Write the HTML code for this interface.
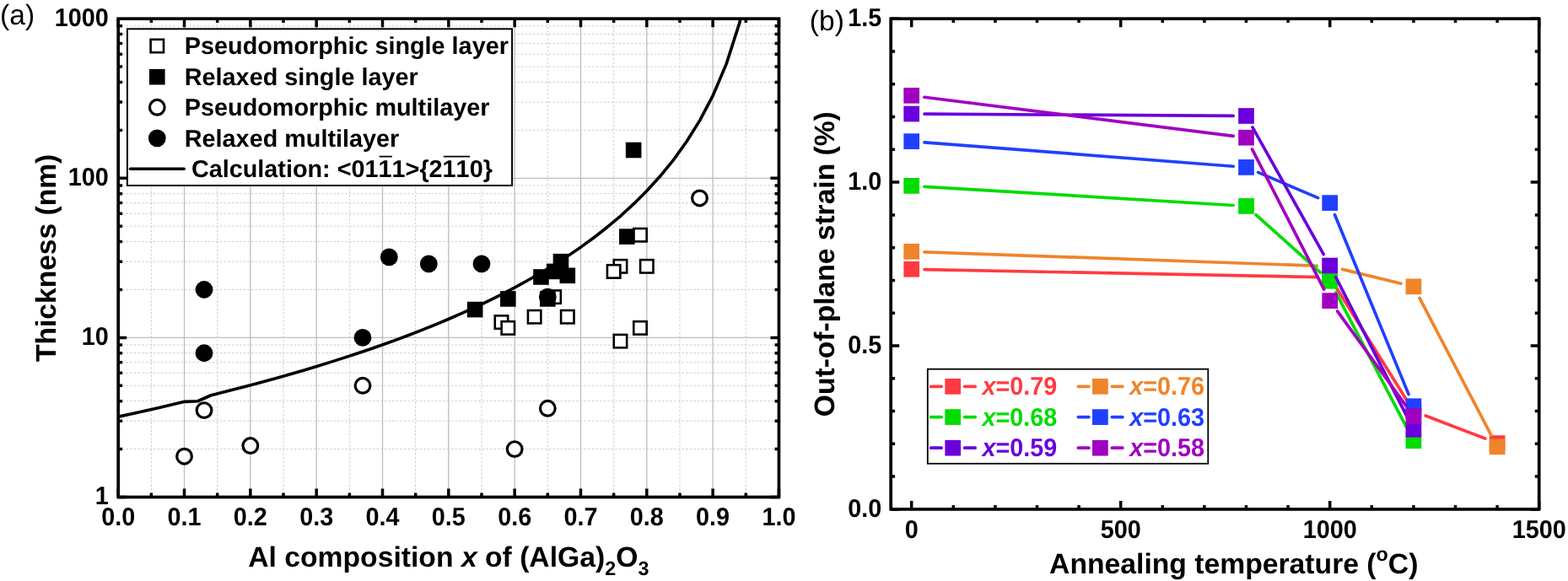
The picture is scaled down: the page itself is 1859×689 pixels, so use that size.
<!DOCTYPE html>
<html lang="en">
<head>
<meta charset="utf-8">
<title>Figure: critical thickness and annealing strain</title>
<style>
html,body{margin:0;padding:0;background:#fff;}
body{width:1859px;height:689px;overflow:hidden;}
svg{display:block;}
text{white-space:pre;font-kerning:none;font-variant-ligatures:none;text-rendering:geometricPrecision;}
</style>
</head>
<body>
<svg width="1859" height="689" viewBox="0 0 1859 689" role="img" aria-label="Two-panel figure: (a) critical thickness versus Al composition, (b) out-of-plane strain versus annealing temperature">
<rect width="1859" height="689" fill="#fff"/>
<g id="chartA">
<g fill="none" stroke-width="1">
<line x1="179.36" y1="22.2" x2="179.36" y2="589.5" stroke="#cecece" stroke-dasharray="2.6 2.04"/>
<line x1="257.69" y1="22.2" x2="257.69" y2="589.5" stroke="#cecece" stroke-dasharray="2.6 2.04"/>
<line x1="336.01" y1="22.2" x2="336.01" y2="589.5" stroke="#cecece" stroke-dasharray="2.6 2.04"/>
<line x1="414.34" y1="22.2" x2="414.34" y2="589.5" stroke="#cecece" stroke-dasharray="2.6 2.04"/>
<line x1="492.66" y1="22.2" x2="492.66" y2="589.5" stroke="#cecece" stroke-dasharray="2.6 2.04"/>
<line x1="570.99" y1="22.2" x2="570.99" y2="589.5" stroke="#cecece" stroke-dasharray="2.6 2.04"/>
<line x1="649.31" y1="22.2" x2="649.31" y2="589.5" stroke="#cecece" stroke-dasharray="2.6 2.04"/>
<line x1="727.64" y1="22.2" x2="727.64" y2="589.5" stroke="#cecece" stroke-dasharray="2.6 2.04"/>
<line x1="805.96" y1="22.2" x2="805.96" y2="589.5" stroke="#cecece" stroke-dasharray="2.6 2.04"/>
<line x1="884.29" y1="22.2" x2="884.29" y2="589.5" stroke="#cecece" stroke-dasharray="2.6 2.04"/>
<line x1="140.2" y1="532.58" x2="923.45" y2="532.58" stroke="#cecece" stroke-dasharray="2.6 2.04"/>
<line x1="140.2" y1="499.28" x2="923.45" y2="499.28" stroke="#cecece" stroke-dasharray="2.6 2.04"/>
<line x1="140.2" y1="475.65" x2="923.45" y2="475.65" stroke="#cecece" stroke-dasharray="2.6 2.04"/>
<line x1="140.2" y1="457.32" x2="923.45" y2="457.32" stroke="#cecece" stroke-dasharray="2.6 2.04"/>
<line x1="140.2" y1="442.35" x2="923.45" y2="442.35" stroke="#cecece" stroke-dasharray="2.6 2.04"/>
<line x1="140.2" y1="429.69" x2="923.45" y2="429.69" stroke="#cecece" stroke-dasharray="2.6 2.04"/>
<line x1="140.2" y1="418.73" x2="923.45" y2="418.73" stroke="#cecece" stroke-dasharray="2.6 2.04"/>
<line x1="140.2" y1="409.05" x2="923.45" y2="409.05" stroke="#cecece" stroke-dasharray="2.6 2.04"/>
<line x1="140.2" y1="343.48" x2="923.45" y2="343.48" stroke="#cecece" stroke-dasharray="2.6 2.04"/>
<line x1="140.2" y1="310.18" x2="923.45" y2="310.18" stroke="#cecece" stroke-dasharray="2.6 2.04"/>
<line x1="140.2" y1="286.55" x2="923.45" y2="286.55" stroke="#cecece" stroke-dasharray="2.6 2.04"/>
<line x1="140.2" y1="268.22" x2="923.45" y2="268.22" stroke="#cecece" stroke-dasharray="2.6 2.04"/>
<line x1="140.2" y1="253.25" x2="923.45" y2="253.25" stroke="#cecece" stroke-dasharray="2.6 2.04"/>
<line x1="140.2" y1="240.59" x2="923.45" y2="240.59" stroke="#cecece" stroke-dasharray="2.6 2.04"/>
<line x1="140.2" y1="229.63" x2="923.45" y2="229.63" stroke="#cecece" stroke-dasharray="2.6 2.04"/>
<line x1="140.2" y1="219.95" x2="923.45" y2="219.95" stroke="#cecece" stroke-dasharray="2.6 2.04"/>
<line x1="140.2" y1="154.38" x2="923.45" y2="154.38" stroke="#cecece" stroke-dasharray="2.6 2.04"/>
<line x1="140.2" y1="121.08" x2="923.45" y2="121.08" stroke="#cecece" stroke-dasharray="2.6 2.04"/>
<line x1="140.2" y1="97.45" x2="923.45" y2="97.45" stroke="#cecece" stroke-dasharray="2.6 2.04"/>
<line x1="140.2" y1="79.12" x2="923.45" y2="79.12" stroke="#cecece" stroke-dasharray="2.6 2.04"/>
<line x1="140.2" y1="64.15" x2="923.45" y2="64.15" stroke="#cecece" stroke-dasharray="2.6 2.04"/>
<line x1="140.2" y1="51.49" x2="923.45" y2="51.49" stroke="#cecece" stroke-dasharray="2.6 2.04"/>
<line x1="140.2" y1="40.53" x2="923.45" y2="40.53" stroke="#cecece" stroke-dasharray="2.6 2.04"/>
<line x1="140.2" y1="30.85" x2="923.45" y2="30.85" stroke="#cecece" stroke-dasharray="2.6 2.04"/>
<line x1="218.52" y1="22.2" x2="218.52" y2="589.5" stroke="#bdbdbd" stroke-width="1.3"/>
<line x1="296.85" y1="22.2" x2="296.85" y2="589.5" stroke="#bdbdbd" stroke-width="1.3"/>
<line x1="375.18" y1="22.2" x2="375.18" y2="589.5" stroke="#bdbdbd" stroke-width="1.3"/>
<line x1="453.5" y1="22.2" x2="453.5" y2="589.5" stroke="#bdbdbd" stroke-width="1.3"/>
<line x1="531.83" y1="22.2" x2="531.83" y2="589.5" stroke="#bdbdbd" stroke-width="1.3"/>
<line x1="610.15" y1="22.2" x2="610.15" y2="589.5" stroke="#bdbdbd" stroke-width="1.3"/>
<line x1="688.48" y1="22.2" x2="688.48" y2="589.5" stroke="#bdbdbd" stroke-width="1.3"/>
<line x1="766.8" y1="22.2" x2="766.8" y2="589.5" stroke="#bdbdbd" stroke-width="1.3"/>
<line x1="845.12" y1="22.2" x2="845.12" y2="589.5" stroke="#bdbdbd" stroke-width="1.3"/>
<line x1="140.2" y1="400.4" x2="923.45" y2="400.4" stroke="#bdbdbd" stroke-width="1.3"/>
<line x1="140.2" y1="211.3" x2="923.45" y2="211.3" stroke="#bdbdbd" stroke-width="1.3"/>
</g>
<clipPath id="clipA"><rect x="140.2" y="22.2" width="783.25" height="567.3"/></clipPath>
<g clip-path="url(#clipA)">
<rect x="586.78" y="374.37" width="15.4" height="15.4" fill="#fff" stroke="#000" stroke-width="2.6"/>
<rect x="594.62" y="381.22" width="15.4" height="15.4" fill="#fff" stroke="#000" stroke-width="2.6"/>
<rect x="625.95" y="368.05" width="15.4" height="15.4" fill="#fff" stroke="#000" stroke-width="2.6"/>
<rect x="649.44" y="344.43" width="15.4" height="15.4" fill="#fff" stroke="#000" stroke-width="2.6"/>
<rect x="665.11" y="368.05" width="15.4" height="15.4" fill="#fff" stroke="#000" stroke-width="2.6"/>
<rect x="727.77" y="308.14" width="15.4" height="15.4" fill="#fff" stroke="#000" stroke-width="2.6"/>
<rect x="719.94" y="314.23" width="15.4" height="15.4" fill="#fff" stroke="#000" stroke-width="2.6"/>
<rect x="759.1" y="308.14" width="15.4" height="15.4" fill="#fff" stroke="#000" stroke-width="2.6"/>
<rect x="751.27" y="271.02" width="15.4" height="15.4" fill="#fff" stroke="#000" stroke-width="2.6"/>
<rect x="727.77" y="396.91" width="15.4" height="15.4" fill="#fff" stroke="#000" stroke-width="2.6"/>
<rect x="751.27" y="381.22" width="15.4" height="15.4" fill="#fff" stroke="#000" stroke-width="2.6"/>
<polyline fill="none" stroke="#000" stroke-width="3.6" stroke-linejoin="round" points="140.5,494.12 156.17,490.68 171.83,487.19 187.5,483.64 203.16,480.03 218.83,476.34 234.5,475.75 250.16,468.74 265.83,464.81 281.49,460.8 297.16,456.69 312.83,452.47 328.49,448.15 344.16,443.71 359.82,439.15 375.49,434.46 391.16,429.63 406.82,424.65 422.49,419.52 438.15,414.22 453.82,408.75 469.49,403.08 485.15,397.21 500.82,391.12 516.48,384.8 532.15,378.24 547.82,371.4 563.48,364.27 579.15,356.82 594.81,349.03 610.48,340.87 626.15,332.29 641.81,323.26 657.48,313.73 673.14,303.63 688.81,292.91 704.48,281.47 720.14,269.21 735.81,256.01 751.47,241.69 767.14,226.06 782.81,208.82 798.47,189.59 814.14,167.82 829.8,142.67 845.47,112.81 861.14,75.89 876.8,27.14 892.47,-45.75"/>
<rect x="553.86" y="357.8" width="18.6" height="18.6" fill="#000"/>
<rect x="593.02" y="345.14" width="18.6" height="18.6" fill="#000"/>
<rect x="632.18" y="319.2" width="18.6" height="18.6" fill="#000"/>
<rect x="647.85" y="312.63" width="18.6" height="18.6" fill="#000"/>
<rect x="655.68" y="300.88" width="18.6" height="18.6" fill="#000"/>
<rect x="663.51" y="317.51" width="18.6" height="18.6" fill="#000"/>
<rect x="640.01" y="345.14" width="18.6" height="18.6" fill="#000"/>
<rect x="734" y="271.31" width="18.6" height="18.6" fill="#000"/>
<rect x="741.84" y="168.7" width="18.6" height="18.6" fill="#000"/>
<circle cx="218.52" cy="541.23" r="8.85" fill="#fff" stroke="#000" stroke-width="3.2"/>
<circle cx="242.02" cy="486.62" r="8.85" fill="#fff" stroke="#000" stroke-width="3.2"/>
<circle cx="296.85" cy="528.57" r="8.85" fill="#fff" stroke="#000" stroke-width="3.2"/>
<circle cx="430" cy="457.32" r="8.85" fill="#fff" stroke="#000" stroke-width="3.2"/>
<circle cx="610.15" cy="532.58" r="8.85" fill="#fff" stroke="#000" stroke-width="3.2"/>
<circle cx="649.31" cy="484.3" r="8.85" fill="#fff" stroke="#000" stroke-width="3.2"/>
<circle cx="829.46" cy="234.93" r="8.85" fill="#fff" stroke="#000" stroke-width="3.2"/>
<circle cx="242.02" cy="343.48" r="10.4" fill="#000"/>
<circle cx="242.02" cy="418.73" r="10.4" fill="#000"/>
<circle cx="430" cy="400.4" r="10.4" fill="#000"/>
<circle cx="461.33" cy="304.88" r="10.4" fill="#000"/>
<circle cx="508.33" cy="312.96" r="10.4" fill="#000"/>
<circle cx="570.99" cy="312.96" r="10.4" fill="#000"/>
<circle cx="649.31" cy="352.13" r="10.4" fill="#000"/>
</g>
<path d="M140.2 589.5v-10.0M140.2 22.2v10.0M179.36 589.5v-4.9M179.36 22.2v4.9M218.52 589.5v-10.0M218.52 22.2v10.0M257.69 589.5v-4.9M257.69 22.2v4.9M296.85 589.5v-10.0M296.85 22.2v10.0M336.01 589.5v-4.9M336.01 22.2v4.9M375.18 589.5v-10.0M375.18 22.2v10.0M414.34 589.5v-4.9M414.34 22.2v4.9M453.5 589.5v-10.0M453.5 22.2v10.0M492.66 589.5v-4.9M492.66 22.2v4.9M531.83 589.5v-10.0M531.83 22.2v10.0M570.99 589.5v-4.9M570.99 22.2v4.9M610.15 589.5v-10.0M610.15 22.2v10.0M649.31 589.5v-4.9M649.31 22.2v4.9M688.48 589.5v-10.0M688.48 22.2v10.0M727.64 589.5v-4.9M727.64 22.2v4.9M766.8 589.5v-10.0M766.8 22.2v10.0M805.96 589.5v-4.9M805.96 22.2v4.9M845.12 589.5v-10.0M845.12 22.2v10.0M884.29 589.5v-4.9M884.29 22.2v4.9M923.45 589.5v-10.0M923.45 22.2v10.0M140.2 589.5h10.0M923.45 589.5h-10.0M140.2 532.58h4.9M923.45 532.58h-4.9M140.2 499.28h4.9M923.45 499.28h-4.9M140.2 475.65h4.9M923.45 475.65h-4.9M140.2 457.32h4.9M923.45 457.32h-4.9M140.2 442.35h4.9M923.45 442.35h-4.9M140.2 429.69h4.9M923.45 429.69h-4.9M140.2 418.73h4.9M923.45 418.73h-4.9M140.2 409.05h4.9M923.45 409.05h-4.9M140.2 400.4h10.0M923.45 400.4h-10.0M140.2 343.48h4.9M923.45 343.48h-4.9M140.2 310.18h4.9M923.45 310.18h-4.9M140.2 286.55h4.9M923.45 286.55h-4.9M140.2 268.22h4.9M923.45 268.22h-4.9M140.2 253.25h4.9M923.45 253.25h-4.9M140.2 240.59h4.9M923.45 240.59h-4.9M140.2 229.63h4.9M923.45 229.63h-4.9M140.2 219.95h4.9M923.45 219.95h-4.9M140.2 211.3h10.0M923.45 211.3h-10.0M140.2 154.38h4.9M923.45 154.38h-4.9M140.2 121.08h4.9M923.45 121.08h-4.9M140.2 97.45h4.9M923.45 97.45h-4.9M140.2 79.12h4.9M923.45 79.12h-4.9M140.2 64.15h4.9M923.45 64.15h-4.9M140.2 51.49h4.9M923.45 51.49h-4.9M140.2 40.53h4.9M923.45 40.53h-4.9M140.2 30.85h4.9M923.45 30.85h-4.9" fill="none" stroke="#000" stroke-width="3.5"/>
<rect x="140.2" y="22.2" width="783.25" height="567.3" fill="none" stroke="#000" stroke-width="3.7"/>
<g font-family='"Liberation Sans", Arial, Helvetica, sans-serif' font-weight="bold" font-size="28.8" fill="#000">
<text transform="translate(140.2 623.2) scale(1 1.05)" text-anchor="middle">0.0</text>
<text transform="translate(218.52 623.2) scale(1 1.05)" text-anchor="middle">0.1</text>
<text transform="translate(296.85 623.2) scale(1 1.05)" text-anchor="middle">0.2</text>
<text transform="translate(375.18 623.2) scale(1 1.05)" text-anchor="middle">0.3</text>
<text transform="translate(453.5 623.2) scale(1 1.05)" text-anchor="middle">0.4</text>
<text transform="translate(531.83 623.2) scale(1 1.05)" text-anchor="middle">0.5</text>
<text transform="translate(610.15 623.2) scale(1 1.05)" text-anchor="middle">0.6</text>
<text transform="translate(688.48 623.2) scale(1 1.05)" text-anchor="middle">0.7</text>
<text transform="translate(766.8 623.2) scale(1 1.05)" text-anchor="middle">0.8</text>
<text transform="translate(845.12 623.2) scale(1 1.05)" text-anchor="middle">0.9</text>
<text transform="translate(923.45 623.2) scale(1 1.05)" text-anchor="middle">1.0</text>
<text transform="translate(128.8 598.1) scale(1 1.05)" text-anchor="end">1</text>
<text transform="translate(128.8 409) scale(1 1.05)" text-anchor="end">10</text>
<text transform="translate(128.8 219.9) scale(1 1.05)" text-anchor="end">100</text>
<text transform="translate(128.8 30.8) scale(1 1.05)" text-anchor="end">1000</text>
</g>
<text x="531.8" y="672.1" text-anchor="middle" font-family='"Liberation Sans", Arial, Helvetica, sans-serif' font-weight="bold" font-size="33.7" fill="#000">Al composition <tspan font-style="italic">x</tspan> of (AlGa)<tspan font-size="23.3" dy="10">2</tspan><tspan dy="-10">O</tspan><tspan font-size="23.3" dy="10">3</tspan></text>
<text transform="translate(66.2 305.9) rotate(-90)" text-anchor="middle" font-family='"Liberation Sans", Arial, Helvetica, sans-serif' font-weight="bold" font-size="33.6" fill="#000">Thickness (nm)</text>
<text x="0.1" y="28.7" font-family='"Liberation Sans", Arial, Helvetica, sans-serif' font-size="33.6" fill="#000">(a)</text>
<rect x="150.9" y="34.3" width="456.2" height="185.7" fill="#fff" stroke="#000" stroke-width="2"/>
<rect x="178.6" y="46.8" width="15.4" height="15.4" fill="#fff" stroke="#000" stroke-width="2.6"/>
<rect x="177" y="81.9" width="18.6" height="18.6" fill="#000"/>
<circle cx="186.3" cy="127.3" r="8.85" fill="#fff" stroke="#000" stroke-width="3.2"/>
<circle cx="186.3" cy="163.8" r="10.4" fill="#000"/>
<line x1="154.6" y1="200.3" x2="218.2" y2="200.3" stroke="#000" stroke-width="3.6" stroke-linecap="round"/>
<g font-family='"Liberation Sans", Arial, Helvetica, sans-serif' font-weight="bold" font-size="28.8" fill="#000">
<text x="218.8" y="64.2">Pseudomorphic single layer</text>
<text x="218.8" y="100.9">Relaxed single layer</text>
<text x="218.8" y="137">Pseudomorphic multilayer</text>
<text x="218.8" y="173.5">Relaxed multilayer</text>
<text x="226.9" y="209.8">Calculation: &lt;0111&gt;{2110}</text>
</g>
<path d="M449.6 185.6h15.2M525.8 185.6h31.2" stroke="#000" stroke-width="1.6" fill="none"/>
</g>
<g id="chartB">
<path d="M1096 319.55L1561.4 328.65M1584.81 341.92L1667.79 474.59M1690.19 493.03L1760.81 520.09" fill="none" stroke="#ff3b41" stroke-width="3.7" stroke-linecap="round"/>
<rect x="1071.35" y="309.9" width="18.7" height="18.7" fill="#ff3b41"/>
<rect x="1567.35" y="319.6" width="18.7" height="18.7" fill="#ff3b41"/>
<rect x="1666.55" y="478.21" width="18.7" height="18.7" fill="#ff3b41"/>
<rect x="1765.75" y="516.21" width="18.7" height="18.7" fill="#ff3b41"/>
<path d="M1095.99 298.85L1561.41 315.23M1591.57 319.37L1661.03 336.2M1682.98 353.37L1768.02 516.27" fill="none" stroke="#f0842a" stroke-width="3.7" stroke-linecap="round"/>
<rect x="1071.35" y="288.96" width="18.7" height="18.7" fill="#f0842a"/>
<rect x="1567.35" y="306.41" width="18.7" height="18.7" fill="#f0842a"/>
<rect x="1666.55" y="330.46" width="18.7" height="18.7" fill="#f0842a"/>
<rect x="1765.75" y="520.48" width="18.7" height="18.7" fill="#f0842a"/>
<path d="M1095.97 221.29L1462.23 243.48M1488.9 254.61L1565.3 323.01M1583.8 346.77L1668.8 509.14" fill="none" stroke="#00dc00" stroke-width="3.7" stroke-linecap="round"/>
<rect x="1071.35" y="211.02" width="18.7" height="18.7" fill="#00dc00"/>
<rect x="1468.15" y="235.06" width="18.7" height="18.7" fill="#00dc00"/>
<rect x="1567.35" y="323.87" width="18.7" height="18.7" fill="#00dc00"/>
<rect x="1666.55" y="513.34" width="18.7" height="18.7" fill="#00dc00"/>
<path d="M1095.95 168.81L1462.25 197.23M1491.58 204.4L1562.62 234.62M1582.52 254.76L1670.08 467.59" fill="none" stroke="#2040ff" stroke-width="3.7" stroke-linecap="round"/>
<rect x="1071.35" y="158.28" width="18.7" height="18.7" fill="#2040ff"/>
<rect x="1468.15" y="189.07" width="18.7" height="18.7" fill="#2040ff"/>
<rect x="1567.35" y="231.26" width="18.7" height="18.7" fill="#2040ff"/>
<rect x="1666.55" y="472.39" width="18.7" height="18.7" fill="#2040ff"/>
<path d="M1096 135.14L1462.2 137.4M1484.96 150.85L1569.24 301.63M1583.66 328.62L1668.94 495.65" fill="none" stroke="#6a00dc" stroke-width="3.7" stroke-linecap="round"/>
<rect x="1071.35" y="125.7" width="18.7" height="18.7" fill="#6a00dc"/>
<rect x="1468.15" y="128.14" width="18.7" height="18.7" fill="#6a00dc"/>
<rect x="1567.35" y="305.64" width="18.7" height="18.7" fill="#6a00dc"/>
<rect x="1666.55" y="499.93" width="18.7" height="18.7" fill="#6a00dc"/>
<path d="M1095.88 115.24L1462.32 161.3M1484.48 176.82L1569.72 343.06M1585.68 369.07L1666.92 481.18" fill="none" stroke="#a000c0" stroke-width="3.7" stroke-linecap="round"/>
<rect x="1071.35" y="103.98" width="18.7" height="18.7" fill="#a000c0"/>
<rect x="1468.15" y="153.85" width="18.7" height="18.7" fill="#a000c0"/>
<rect x="1567.35" y="347.33" width="18.7" height="18.7" fill="#a000c0"/>
<rect x="1666.55" y="484.22" width="18.7" height="18.7" fill="#a000c0"/>
<path d="M1080.7 603.9v-10.0M1080.7 22.2v10.0M1130.3 603.9v-4.9M1130.3 22.2v4.9M1179.9 603.9v-4.9M1179.9 22.2v4.9M1229.5 603.9v-4.9M1229.5 22.2v4.9M1279.1 603.9v-4.9M1279.1 22.2v4.9M1328.7 603.9v-10.0M1328.7 22.2v10.0M1378.3 603.9v-4.9M1378.3 22.2v4.9M1427.9 603.9v-4.9M1427.9 22.2v4.9M1477.5 603.9v-4.9M1477.5 22.2v4.9M1527.1 603.9v-4.9M1527.1 22.2v4.9M1576.7 603.9v-10.0M1576.7 22.2v10.0M1626.3 603.9v-4.9M1626.3 22.2v4.9M1675.9 603.9v-4.9M1675.9 22.2v4.9M1725.5 603.9v-4.9M1725.5 22.2v4.9M1775.1 603.9v-4.9M1775.1 22.2v4.9M1824.7 603.9v-10.0M1824.7 22.2v10.0M1056.2 603.9h10.0M1824.7 603.9h-10.0M1056.2 565.12h4.9M1824.7 565.12h-4.9M1056.2 526.34h4.9M1824.7 526.34h-4.9M1056.2 487.56h4.9M1824.7 487.56h-4.9M1056.2 448.78h4.9M1824.7 448.78h-4.9M1056.2 410h10.0M1824.7 410h-10.0M1056.2 371.22h4.9M1824.7 371.22h-4.9M1056.2 332.44h4.9M1824.7 332.44h-4.9M1056.2 293.66h4.9M1824.7 293.66h-4.9M1056.2 254.88h4.9M1824.7 254.88h-4.9M1056.2 216.1h10.0M1824.7 216.1h-10.0M1056.2 177.32h4.9M1824.7 177.32h-4.9M1056.2 138.54h4.9M1824.7 138.54h-4.9M1056.2 99.76h4.9M1824.7 99.76h-4.9M1056.2 60.98h4.9M1824.7 60.98h-4.9M1056.2 22.2h10.0M1824.7 22.2h-10.0" fill="none" stroke="#000" stroke-width="3.5"/>
<rect x="1056.2" y="22.2" width="768.5" height="581.7" fill="none" stroke="#000" stroke-width="3.7"/>
<g font-family='"Liberation Sans", Arial, Helvetica, sans-serif' font-weight="bold" font-size="28.8" fill="#000">
<text transform="translate(1080.7 637.5) scale(1 1.05)" text-anchor="middle">0</text>
<text transform="translate(1328.7 637.5) scale(1 1.05)" text-anchor="middle">500</text>
<text transform="translate(1576.7 637.5) scale(1 1.05)" text-anchor="middle">1000</text>
<text transform="translate(1824.7 637.5) scale(1 1.05)" text-anchor="middle">1500</text>
<text transform="translate(1045.2 612.5) scale(1 1.05)" text-anchor="end">0.0</text>
<text transform="translate(1045.2 418.6) scale(1 1.05)" text-anchor="end">0.5</text>
<text transform="translate(1045.2 224.7) scale(1 1.05)" text-anchor="end">1.0</text>
<text transform="translate(1045.2 30.8) scale(1 1.05)" text-anchor="end">1.5</text>
</g>
<text x="1244.1" y="679.5" font-family='"Liberation Sans", Arial, Helvetica, sans-serif' font-weight="bold" font-size="33.7" fill="#000">Annealing temperature (<tspan font-size="23.3" dy="-14.3">o</tspan><tspan dy="14.3">C)</tspan></text>
<text transform="translate(989 313.2) rotate(-90)" text-anchor="middle" font-family='"Liberation Sans", Arial, Helvetica, sans-serif' font-weight="bold" font-size="33.6" fill="#000">Out-of-plane strain (%)</text>
<text x="959.8" y="35.9" font-family='"Liberation Sans", Arial, Helvetica, sans-serif' font-size="33.6" fill="#000">(b)</text>
<rect x="1099.8" y="437.7" width="332.5" height="112.1" fill="#fff" stroke="#000" stroke-width="1.8"/>
<g font-family='"Liberation Sans", Arial, Helvetica, sans-serif' font-weight="bold" font-size="28.8">
<path d="M1103.7 458.3h12.5M1143.7 458.3h12.5" stroke="#ff3b41" stroke-width="3.7" stroke-linecap="round" fill="none"/>
<rect x="1120.35" y="448.95" width="18.7" height="18.7" fill="#ff3b41"/>
<text transform="translate(1164.5 468.2) scale(1 1.05)" fill="#ff3b41"><tspan font-style="italic">x</tspan>=0.79</text>
<path d="M1278.4 458.3h12.5M1318.4 458.3h12.5" stroke="#f0842a" stroke-width="3.7" stroke-linecap="round" fill="none"/>
<rect x="1295.05" y="448.95" width="18.7" height="18.7" fill="#f0842a"/>
<text transform="translate(1339.2 468.2) scale(1 1.05)" fill="#f0842a"><tspan font-style="italic">x</tspan>=0.76</text>
<path d="M1103.7 494.6h12.5M1143.7 494.6h12.5" stroke="#00dc00" stroke-width="3.7" stroke-linecap="round" fill="none"/>
<rect x="1120.35" y="485.25" width="18.7" height="18.7" fill="#00dc00"/>
<text transform="translate(1164.5 504.5) scale(1 1.05)" fill="#00dc00"><tspan font-style="italic">x</tspan>=0.68</text>
<path d="M1278.4 494.6h12.5M1318.4 494.6h12.5" stroke="#2040ff" stroke-width="3.7" stroke-linecap="round" fill="none"/>
<rect x="1295.05" y="485.25" width="18.7" height="18.7" fill="#2040ff"/>
<text transform="translate(1339.2 504.5) scale(1 1.05)" fill="#2040ff"><tspan font-style="italic">x</tspan>=0.63</text>
<path d="M1103.7 531.2h12.5M1143.7 531.2h12.5" stroke="#6a00dc" stroke-width="3.7" stroke-linecap="round" fill="none"/>
<rect x="1120.35" y="521.85" width="18.7" height="18.7" fill="#6a00dc"/>
<text transform="translate(1164.5 541.1) scale(1 1.05)" fill="#6a00dc"><tspan font-style="italic">x</tspan>=0.59</text>
<path d="M1278.4 531.2h12.5M1318.4 531.2h12.5" stroke="#a000c0" stroke-width="3.7" stroke-linecap="round" fill="none"/>
<rect x="1295.05" y="521.85" width="18.7" height="18.7" fill="#a000c0"/>
<text transform="translate(1339.2 541.1) scale(1 1.05)" fill="#a000c0"><tspan font-style="italic">x</tspan>=0.58</text>
</g>
</g>
</svg>
</body>
</html>
